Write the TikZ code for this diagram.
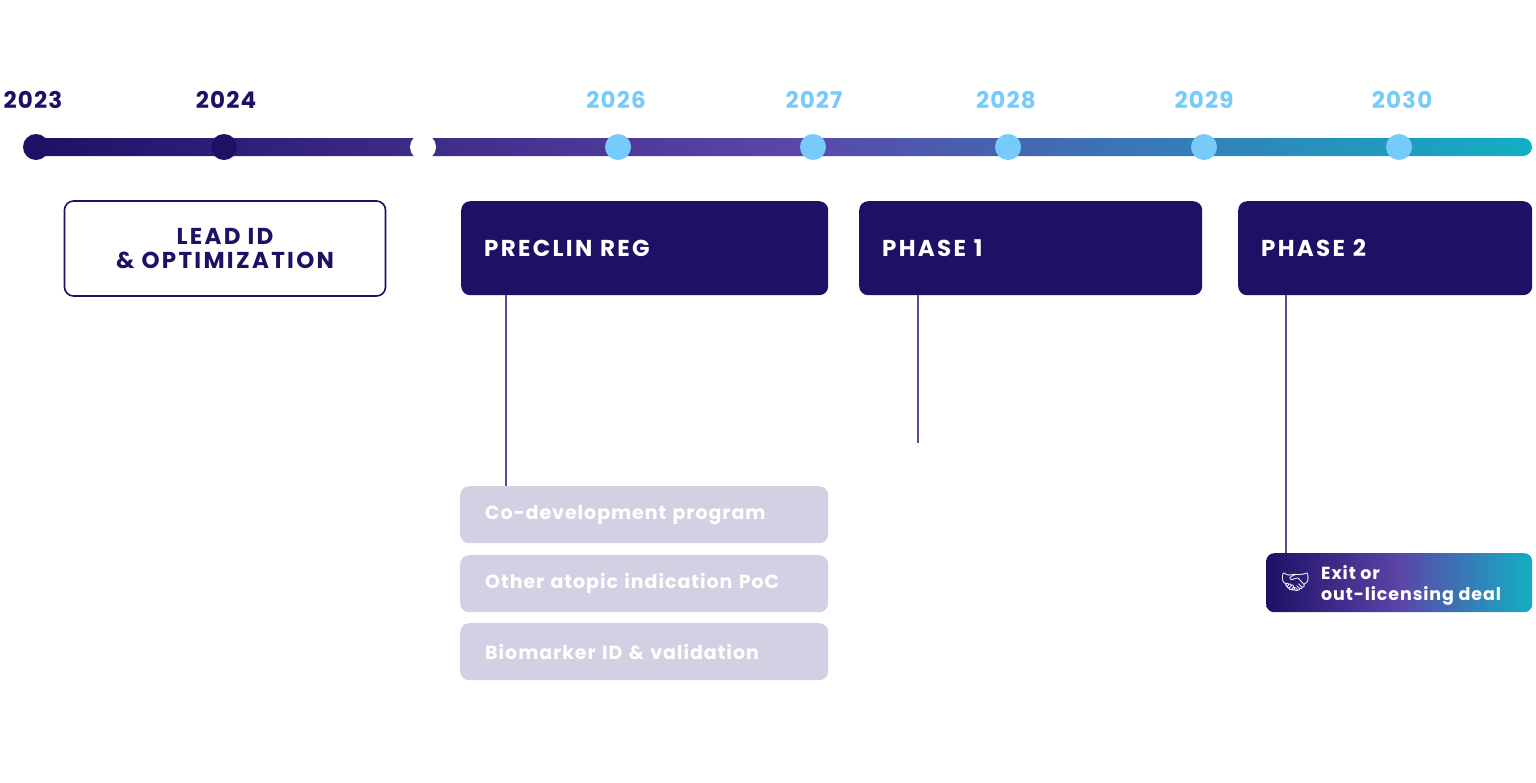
\documentclass[tikz,border=0pt]{standalone}
\usepackage{fontspec}
\setmainfont{Poppins}
\newfontfamily\headfont[LetterSpace=10]{Poppins}
\newfontfamily\labelfont[LetterSpace=5]{Poppins}
\newfontfamily\emojifont{Noto Emoji}
\usetikzlibrary{positioning}

\definecolor{navy}{HTML}{1F1065}
\definecolor{violet}{HTML}{5B45A8}
\definecolor{teal}{HTML}{13AFC4}
\definecolor{skyblue}{HTML}{76CBFB}
\definecolor{lilac}{HTML}{D3D0E3}
\definecolor{stemline}{HTML}{564A9E}

\tikzset{
  year/.style={font=\fontsize{23}{26}\labelfont\bfseries, inner sep=0pt},
  dot/.style={circle, minimum size=26pt, inner sep=0pt},
  leadbox/.style={draw=navy, line width=1.6pt, fill=white, rounded corners=9pt,
    minimum width=321pt, minimum height=95pt, align=center, text=navy,
    font=\fontsize{23}{24}\headfont\bfseries},
  phasebox/.style={fill=navy, rounded corners=9pt, anchor=north west,
    minimum height=94pt, inner xsep=23pt, align=left, text=white,
    font=\fontsize{23}{24}\headfont\bfseries},
  bullets/.style={anchor=north west, inner sep=0pt, align=left, text=white,
    font=\fontsize{18}{33}\labelfont},
  subbox/.style={fill=lilac, rounded corners=9pt, anchor=north west,
    minimum height=57pt, text width=318pt, inner xsep=25pt, align=left,
    text=white, font=\fontsize{19}{20}\labelfont\bfseries},
  exitbox/.style={left color=navy, right color=teal, middle color=violet,
    rounded corners=8pt, anchor=north west, minimum width=266pt,
    minimum height=59pt, inner sep=0pt},
  exittext/.style={inner sep=0pt, align=left, text=white,
    font=\fontsize{17.5}{21}\labelfont\bfseries},
  stem/.style={draw=stemline, line width=2pt}
}

\begin{document}
\begin{tikzpicture}[x=1pt, y=-1pt]
  \useasboundingbox[fill=white] (0,0) rectangle (1536,782);

  % timeline bar
  \shade[left color=navy, right color=teal, middle color=violet, rounded corners=9pt]
    (30,138) rectangle (1532,156);
  \foreach \yr/\xx/\col in {2023/33/navy, 2024/226/navy, 2025/425/white,
      2026/616/skyblue, 2027/814/skyblue, 2028/1006/skyblue,
      2029/1204/skyblue, 2030/1402/skyblue} {
    \node[year, text=\col] (y\yr) at (\xx,100) {\yr};
  }
  \foreach \yr/\xx/\col in {2023/36/navy, 2024/224/navy, 2025/423/white,
      2026/618/skyblue, 2027/813/skyblue, 2028/1008/skyblue,
      2029/1204/skyblue, 2030/1399/skyblue} {
    \node[dot, fill=\col] (d\yr) at (\xx,147) {};
  }

  % stages
  \node[leadbox] (lead) at (225,248.5) {LEAD ID\\\& OPTIMIZATION};
  \node[phasebox, text width=321pt] (preclin) at (461,201) {PRECLIN REG};
  \node[phasebox, text width=297pt] (phaseone) at (859,201) {PHASE 1};
  \node[phasebox, text width=248pt] (phasetwo) at (1238,201) {PHASE 2};

  % activities
  \node[bullets] (preclinlist) at (523,327) {• Stable cell line production\\
    • GMP grade manufacture\\• Tox \& stability studies\\• Granting of IND status};
  \node[bullets] (phaseonelist) at (935,327) {• Healthy volunteers\\• SAD, MAD\\
    • Food effect studies\\• Dosing studies};
  \node[bullets] (phasetwolist) at (1303,327) {• Human PoC\\• Atopic patient\\
    \phantom{• }population\\• Efficacy, safety \&\\\phantom{• }tolerability studies};

  \node[subbox] (codev) at (460,486) {Co-development program};
  \node[subbox] (atopic) at (460,555) {Other atopic indication PoC};
  \node[subbox] (biomarker) at (460,623) {Biomarker ID \& validation};

  \node[exitbox] (exit) at (1266,553) {};
  \node[text=white, inner sep=0pt, font=\fontsize{24}{24}\selectfont\emojifont,
    right=14pt of exit.west] (handshake) {🤝};
  \node[exittext, right=55pt of exit.west, yshift=-2.5pt] (exitlabel) {Exit or\\out-licensing deal};

  % stems
  \coordinate (pcx) at (506,0);
  \coordinate (pox) at (918,0);
  \coordinate (ptx) at (1286,0);
  \coordinate (phaseoneend) at (918,443);
  \draw[stem] (preclin.south -| pcx) -- (codev.north -| pcx);
  \draw[stem] (phaseone.south -| pox) -- (phaseoneend);
  \draw[stem] (phasetwo.south -| ptx) -- (exit.north -| ptx);
\end{tikzpicture}
\end{document}
